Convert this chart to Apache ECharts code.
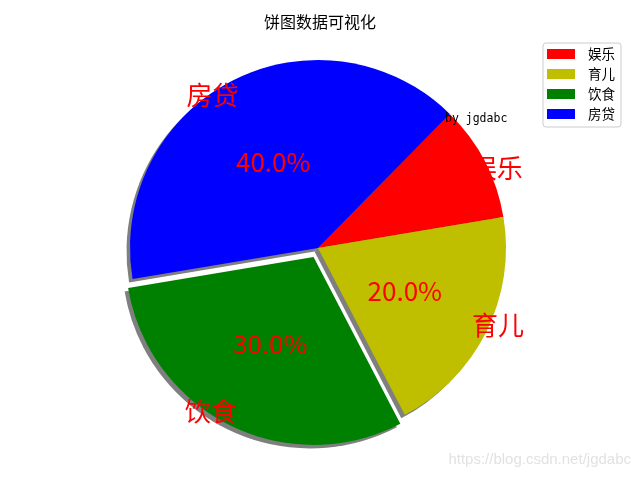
<!DOCTYPE html>
<html>
<head>
<meta charset="utf-8">
<script src="https://cdn.jsdelivr.net/npm/echarts@6/dist/echarts.min.js"></script>
<style>html,body{margin:0;padding:0;background:#fff}#c{width:640px;height:480px}</style>
</head>
<body>
<div id="c"></div>
<script>
const categories = ['娱乐', '育儿', '饮食', '房贷'];
const values = [10, 20, 30, 40];
const colors = ['#ff0000', '#bfbf00', '#008000', '#0000ff'];
const explode = [false, false, true, false];

const FONT = '"Noto Sans CJK SC", "Noto Sans", sans-serif';
const START = 45.5;
const R = 188;
const LABEL_FS = 26;
const total = values.reduce((a, b) => a + b, 0);

let cum = 0;
const sides = values.map(v => {
  const mid = (START - (cum + v / 2) / total * 360) * Math.PI / 180;
  cum += v;
  return Math.cos(mid) >= 0 ? 1 : -1;
});

const mainData = categories.map((n, i) => ({
  name: n, value: values[i], selected: explode[i],
  itemStyle: { color: colors[i] }
}));
const labelData = categories.map((n, i) => {
  const w = n.length * LABEL_FS;
  return {
    name: n, value: values[i], selected: explode[i],
    label: { padding: sides[i] > 0 ? [0, 0, 0, w] : [0, w, 0, 0] }
  };
});

const chart = echarts.init(document.getElementById('c'));
chart.setOption({
  animation: false,
  backgroundColor: '#fff',
  title: {
    text: '饼图数据可视化', left: 'center', top: 9,
    textStyle: { fontFamily: FONT, fontSize: 16, fontWeight: 'normal', color: '#000' }
  },
  legend: {
    orient: 'vertical', left: 543, top: 43,
    data: categories,
    icon: 'rect', itemWidth: 28, itemHeight: 10, itemGap: 6,
    padding: [4, 6, 6, 4],
    borderColor: '#cccccc', borderWidth: 1, borderRadius: 3,
    textStyle: { fontFamily: FONT, fontSize: 13.5, lineHeight: 14, color: '#000', padding: [0, 0, 0, 8] },
    selectedMode: false
  },
  graphic: [
    { type: 'text', z: 100, style: { x: 445, y: 119, text: 'by jgdabc', fill: '#000',
      font: '11.5px "DejaVu Sans Mono", monospace', verticalAlign: 'middle' } },
    { type: 'text', z: 100, style: { x: 631, y: 460, text: 'https://blog.csdn.net/jgdabc', fill: '#e2e2e2',
      font: '15px "Liberation Sans", Arial, sans-serif', align: 'right', verticalAlign: 'middle' } }
  ],
  series: [
    {
      type: 'pie', name: 'main',
      center: [318, 248], radius: [0, R],
      startAngle: START, clockwise: true,
      selectedMode: 'multiple', selectedOffset: 10,
      avoidLabelOverlap: false,
      itemStyle: { borderWidth: 0, borderRadius: 0, shadowColor: 'rgba(0,0,0,0.5)', shadowOffsetX: -3.5, shadowOffsetY: 3.5, shadowBlur: 0.5 },
      emphasis: { disabled: true },
      label: {
        show: true, position: 'inside', color: '#ff0000', fontSize: 26, fontFamily: FONT,
        formatter: p => p.percent.toFixed(1) + '%'
      },
      labelLine: { show: false },
      data: mainData
    },
    {
      type: 'pie', name: 'labels', silent: true,
      center: [318, 248], radius: [0, R * 0.9 * 2],
      startAngle: START, clockwise: true,
      selectedMode: 'multiple', selectedOffset: 10,
      avoidLabelOverlap: false,
      itemStyle: { color: 'rgba(0,0,0,0)', borderWidth: 0 },
      emphasis: { disabled: true },
      label: {
        show: true, position: 'inside', color: '#ff0000', fontSize: LABEL_FS, fontFamily: FONT,
        formatter: '{b}'
      },
      labelLine: { show: false },
      data: labelData
    }
  ]
});
</script>
</body>
</html>
